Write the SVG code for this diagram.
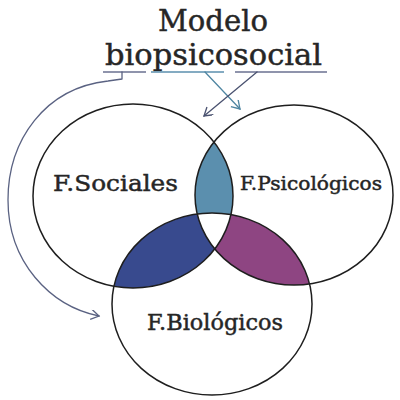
<svg xmlns="http://www.w3.org/2000/svg" width="400" height="400" viewBox="0 0 400 400">
<style>
.t{font-family:"DejaVu Serif","Liberation Serif",serif;fill:#262626;stroke:#262626;stroke-width:0.45}
.c{fill:none;stroke:#1e1e1e;stroke-width:1.5}
.a{fill:none;stroke-width:1.3;stroke-linecap:round;stroke-linejoin:round}
</style>
<defs>
<clipPath id="cL"><ellipse cx="133" cy="196" rx="100" ry="92"/></clipPath>
<clipPath id="cR"><ellipse cx="294" cy="195" rx="99" ry="90"/></clipPath>
<clipPath id="cB"><ellipse cx="212" cy="304" rx="100" ry="91"/></clipPath>
<marker id="mG" markerWidth="12" markerHeight="12" refX="9" refY="5" orient="auto" markerUnits="userSpaceOnUse"><path d="M1,0 L9,5 L1,10" fill="none" stroke="#5a6282" stroke-width="1.3"/></marker>
<marker id="mT" markerWidth="12" markerHeight="12" refX="9" refY="5" orient="auto" markerUnits="userSpaceOnUse"><path d="M1,0 L9,5 L1,10" fill="none" stroke="#4f86a2" stroke-width="1.3"/></marker>
<marker id="mD" markerWidth="12" markerHeight="12" refX="9" refY="5" orient="auto" markerUnits="userSpaceOnUse"><path d="M1,0 L9,5 L1,10" fill="none" stroke="#4a5270" stroke-width="1.3"/></marker>
</defs>
<rect width="400" height="400" fill="#ffffff"/>
<g id="title">
<text class="t" x="213" y="31" font-size="30" text-anchor="middle" textLength="110" lengthAdjust="spacingAndGlyphs">Modelo</text>
<text class="t" x="105" y="65" font-size="30" textLength="217" lengthAdjust="spacingAndGlyphs">biopsicosocial</text>
<line x1="103" y1="72" x2="146" y2="72" stroke="#6a7090" stroke-width="1.5"/>
<line x1="151" y1="72" x2="224" y2="72" stroke="#5b8fae" stroke-width="1.5"/>
<line x1="235" y1="72" x2="327" y2="72" stroke="#6a7090" stroke-width="1.5"/>
</g>
<g id="fills">
<g clip-path="url(#cR)"><ellipse cx="133" cy="196" rx="100" ry="92" fill="#5b8fae"/></g>
<g clip-path="url(#cB)"><ellipse cx="133" cy="196" rx="100" ry="92" fill="#384a8e"/></g>
<g clip-path="url(#cB)"><ellipse cx="294" cy="195" rx="99" ry="90" fill="#8e4582"/></g>
<g clip-path="url(#cB)"><g clip-path="url(#cR)"><ellipse cx="133" cy="196" rx="100" ry="92" fill="#ffffff"/></g></g>
</g>
<g id="sociales">
<ellipse class="c" cx="133" cy="196" rx="100" ry="92"/>
<text class="t" x="53" y="191" font-size="22" textLength="125" lengthAdjust="spacingAndGlyphs">F.Sociales</text>
</g>
<g id="psicologicos">
<ellipse class="c" cx="294" cy="195" rx="99" ry="90"/>
<text class="t" x="240" y="190" font-size="18" textLength="142" lengthAdjust="spacingAndGlyphs">F.Psicológicos</text>
</g>
<g id="biologicos">
<ellipse class="c" cx="212" cy="304" rx="100" ry="91"/>
<text class="t" x="147" y="330" font-size="22" textLength="136" lengthAdjust="spacingAndGlyphs">F.Biológicos</text>
</g>
<g id="connectors">
<path class="a" stroke="#5a6282" d="M122,72 V79 L108,81 C45,88 8,140 8,200 C8,262 50,306 99,316" marker-end="url(#mG)"/>
<path class="a" stroke="#4f86a2" d="M205,72 L240,109" marker-end="url(#mT)"/>
<path class="a" stroke="#4a5270" d="M257,72 L204,116" marker-end="url(#mD)"/>
</g>
</svg>
